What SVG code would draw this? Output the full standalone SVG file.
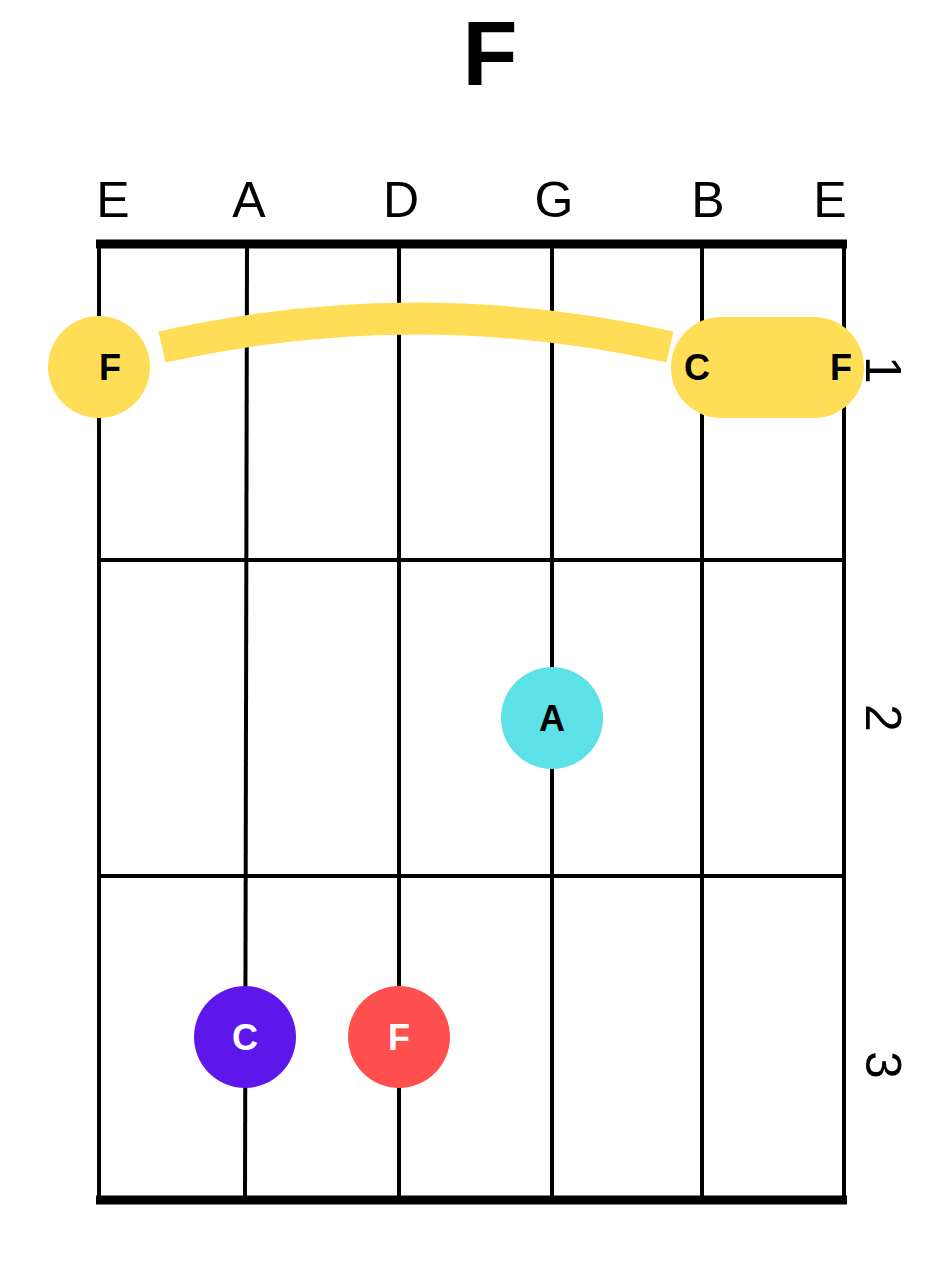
<svg xmlns="http://www.w3.org/2000/svg" width="929" height="1266" viewBox="0 0 929 1266">
<style>
.s{stroke:#000;stroke-width:4;fill:none}
.lbl{font-family:"Liberation Sans",Arial,sans-serif;font-size:50px;fill:#000;text-anchor:middle}
.n{font-family:"Liberation Sans",Arial,sans-serif;font-size:36px;font-weight:bold;text-anchor:middle}
</style>
<rect width="929" height="1266" fill="#fff"/>
<text x="490" y="85" class="lbl" style="font-size:90px;font-weight:bold">F</text>
<g id="strings-labels">
<text x="113" y="217" class="lbl">E</text>
<text x="249" y="217" class="lbl">A</text>
<text x="401" y="217" class="lbl">D</text>
<text x="554" y="217" class="lbl">G</text>
<text x="708" y="217" class="lbl">B</text>
<text x="830" y="217" class="lbl">E</text>
</g>
<g id="grid">
<line class="s" x1="99" y1="244" x2="99" y2="1200"/>
<line class="s" x1="247" y1="244" x2="245" y2="1200"/>
<line class="s" x1="399" y1="244" x2="399" y2="1200"/>
<line class="s" x1="552" y1="244" x2="552" y2="1200"/>
<line class="s" x1="702" y1="244" x2="702" y2="1200"/>
<line class="s" x1="844" y1="244" x2="844" y2="1200"/>
<line class="s" x1="99" y1="560" x2="844" y2="560"/>
<line class="s" x1="99" y1="876" x2="844" y2="876"/>
<line x1="96" y1="244" x2="847" y2="244" stroke="#000" stroke-width="9"/>
<line x1="96" y1="1200" x2="847" y2="1200" stroke="#000" stroke-width="9"/>
</g>
<g id="fret-numbers" font-family="Liberation Sans, Arial, sans-serif" font-size="50" text-anchor="middle">
<text transform="translate(866,370) rotate(90)">1</text>
<text transform="translate(866,718) rotate(90)">2</text>
<text transform="translate(866,1065) rotate(90)">3</text>
</g>
<g id="connectors">
<path d="M162,347 Q416,290 670,347" stroke="#FFDD57" stroke-width="32" fill="none"/>
</g>
<g id="node-f1"><circle cx="99" cy="367" r="51" fill="#FFDD57"/><text x="110" y="380" class="n">F</text></g>
<g id="node-barre"><rect x="671" y="317" width="193" height="101" rx="50" fill="#FFDD57"/><text x="697" y="380" class="n">C</text><text x="841" y="380" class="n">F</text></g>
<g id="node-a"><circle cx="552" cy="718" r="51" fill="#5CE1E6"/><text x="552" y="731" class="n">A</text></g>
<g id="node-c"><circle cx="245" cy="1037" r="51" fill="#5E17EB"/><text x="245" y="1050" class="n" fill="#fff">C</text></g>
<g id="node-f3"><circle cx="399" cy="1037" r="51" fill="#FF4F4F"/><text x="399" y="1050" class="n" fill="#fff">F</text></g>
</svg>
